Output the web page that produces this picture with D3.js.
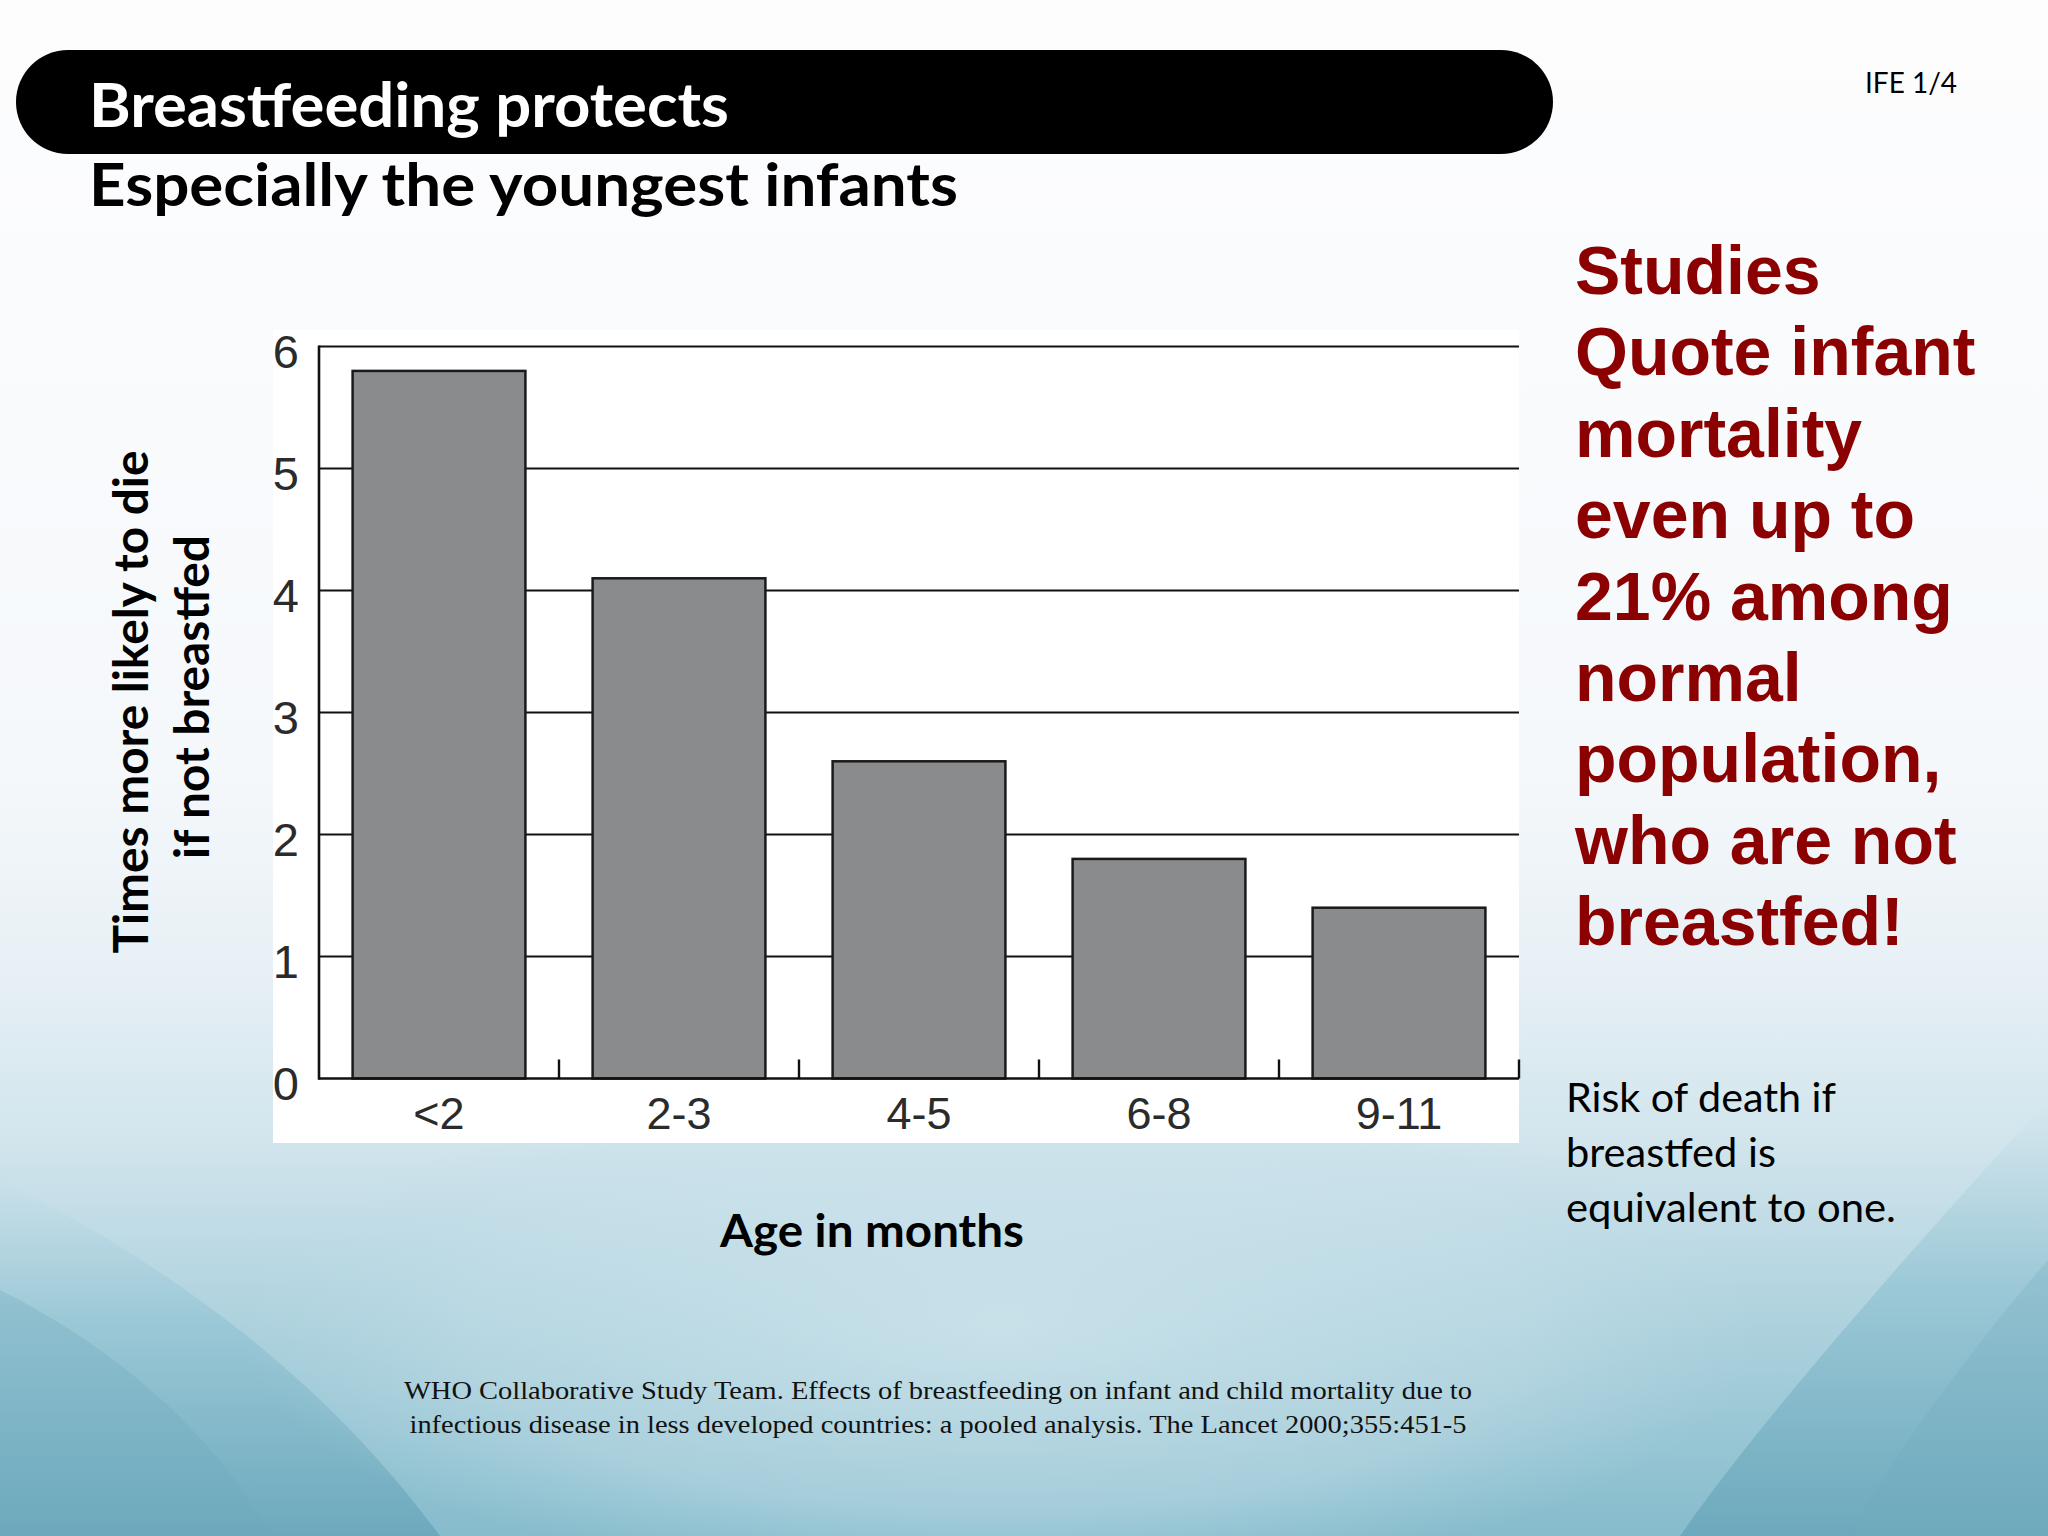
<!DOCTYPE html>
<html>
<head>
<meta charset="utf-8">
<script src="https://cdn.jsdelivr.net/npm/d3@7"></script>
<style>
  html, body { margin: 0; padding: 0; background: #fff; }
  svg { display: block; }
</style>
</head>
<body>
<script>
// chart values
const ageGroups = ["<2", "2-3", "4-5", "6-8", "9-11"];
const timesMoreLikely = [5.8, 4.1, 2.6, 1.8, 1.4];
const yTicks = [0, 1, 2, 3, 4, 5, 6];

// slide texts
const slideTitle = "Breastfeeding protects";
const slideSubtitle = "Especially the youngest infants";
const slideTag = "IFE 1/4";
const yTitleLines = ["Times more likely to die", "if not breastfed"];
const xTitle = "Age in months";
const calloutLines = ["Studies", "Quote infant", "mortality", "even up to", "21% among",
  "normal", "population,", "who are not", "breastfed!"];
const noteLines = ["Risk of death if", "breastfed is", "equivalent to one."];
const citationLines = [
  "WHO Collaborative Study Team. Effects of breastfeeding on infant and child mortality due to",
  "infectious disease in less developed countries: a pooled analysis. The Lancet 2000;355:451-5"
];

let width = 2048,
    height = 1536;

let svg = d3.select("body").append("svg")
    .attr("width", width).attr("height", height);

let defs = svg.append("defs");

// background of the slide
let bg = defs.append("linearGradient").attr("id", "bg")
    .attr("x1", 0).attr("y1", 0).attr("x2", 0).attr("y2", 1);
[[0, "#fdfdfe"], [0.5, "#f5f8fb"], [0.62, "#e9f1f6"], [0.74, "#d2e5ed"], [0.86, "#aed2de"], [1, "#86bccc"]]
    .forEach(s => bg.append("stop").attr("offset", s[0]).attr("stop-color", s[1]));

let dark = defs.append("linearGradient").attr("id", "dark")
    .attr("x1", 0).attr("y1", 0).attr("x2", 0).attr("y2", 1);
[[0, "#a5cfdc", 0], [0.4, "#8cc0d0", 0.55], [1, "#6aa7bb", 0.9]]
    .forEach(s => dark.append("stop").attr("offset", s[0]).attr("stop-color", s[1]).attr("stop-opacity", s[2]));

let dome = defs.append("radialGradient").attr("id", "dome")
    .attr("cx", 0.5).attr("cy", 0.5).attr("r", 0.5);
[[0, "#d3e7ee", 0.7], [0.7, "#c8e1ea", 0.4], [1, "#bcdbe5", 0]]
    .forEach(s => dome.append("stop").attr("offset", s[0]).attr("stop-color", s[1]).attr("stop-opacity", s[2]));

svg.append("rect").attr("width", width).attr("height", height).attr("fill", "url(#bg)");

// darker teal arcs at the sides
svg.append("path")
    .attr("d", "M0,1180 C200,1280 340,1400 440,1536 L0,1536 Z")
    .attr("fill", "url(#dark)");
svg.append("path")
    .attr("d", "M0,1290 C120,1350 220,1440 270,1536 L0,1536 Z")
    .attr("fill", "#6ea9bc").attr("opacity", 0.3);
svg.append("path")
    .attr("d", "M2048,1100 C1920,1240 1760,1420 1680,1536 L2048,1536 Z")
    .attr("fill", "url(#dark)");
svg.append("path")
    .attr("d", "M2048,1260 C1970,1350 1890,1460 1850,1536 L2048,1536 Z")
    .attr("fill", "#6ea9bc").attr("opacity", 0.25);
svg.append("ellipse")
    .attr("cx", 1000).attr("cy", 1330).attr("rx", 760).attr("ry", 260)
    .attr("fill", "url(#dome)");

// title bar
svg.append("rect")
    .attr("x", 16).attr("y", 50).attr("width", 1537).attr("height", 104)
    .attr("rx", 52).attr("ry", 52)
    .attr("fill", "#000");

svg.append("text")
    .attr("x", 89).attr("y", 127)
    .attr("font-family", "Lato, 'Open Sans', sans-serif")
    .attr("font-weight", 700).attr("font-size", 62)
    .attr("fill", "#fff")
    .attr("textLength", 640).attr("lengthAdjust", "spacingAndGlyphs")
    .text(slideTitle);

svg.append("text")
    .attr("x", 89).attr("y", 206)
    .attr("font-family", "Lato, 'Open Sans', sans-serif")
    .attr("font-weight", 700).attr("font-size", 60)
    .attr("fill", "#000")
    .attr("textLength", 869).attr("lengthAdjust", "spacingAndGlyphs")
    .text(slideSubtitle);

svg.append("text")
    .attr("x", 1865).attr("y", 93)
    .attr("font-family", "Lato, 'Open Sans', sans-serif")
    .attr("font-size", 28).attr("fill", "#000")
    .attr("textLength", 92).attr("lengthAdjust", "spacingAndGlyphs")
    .text(slideTag);

// chart panel
svg.append("rect")
    .attr("x", 273).attr("y", 330).attr("width", 1246).attr("height", 813)
    .attr("fill", "#fff");

let x = d3.scaleBand()
    .domain(ageGroups)
    .range([319, 1519])
    .paddingInner(0.28)
    .paddingOuter(0.14);

let y = d3.scaleLinear()
    .domain([0, 6])
    .range([1078.5, 346.5]);

let plot = svg.append("g").attr("class", "plot");

// gridlines
plot.selectAll(".grid")
    .data(yTicks.filter(d => d > 0))
    .enter()
    .append("line")
    .attr("x1", 319).attr("x2", 1519)
    .attr("y1", d => y(d)).attr("y2", d => y(d))
    .attr("stroke", "#111").attr("stroke-width", 2.2);

// bars
plot.selectAll(".bar")
    .data(timesMoreLikely)
    .enter()
    .append("rect")
    .attr("x", (d, i) => x(ageGroups[i]))
    .attr("y", d => y(d))
    .attr("width", x.bandwidth())
    .attr("height", d => y(0) - y(d))
    .attr("fill", "#8a8b8d")
    .attr("stroke", "#1a1a1a")
    .attr("stroke-width", 2.5);

// baseline and left axis line
plot.append("line")
    .attr("x1", 319).attr("x2", 1519)
    .attr("y1", y(0)).attr("y2", y(0))
    .attr("stroke", "#111").attr("stroke-width", 2.6);
plot.append("line")
    .attr("x1", 319).attr("x2", 319)
    .attr("y1", y(6) - 1).attr("y2", y(0) + 1.3)
    .attr("stroke", "#111").attr("stroke-width", 2.6);

// upward ticks between the age groups
plot.selectAll(".xtick")
    .data(ageGroups)
    .enter()
    .append("line")
    .attr("x1", d => x(d) + x.bandwidth() + (x.step() - x.bandwidth()) / 2)
    .attr("x2", d => x(d) + x.bandwidth() + (x.step() - x.bandwidth()) / 2)
    .attr("y1", y(0)).attr("y2", y(0) - 19)
    .attr("stroke", "#111").attr("stroke-width", 2.4);

// axis labels
let yAxis = plot.append("g")
    .attr("transform", "translate(319,0)")
    .call(d3.axisLeft(y).tickValues(yTicks).tickSize(0).tickPadding(20).tickFormat(d3.format("d")));
yAxis.select(".domain").remove();
yAxis.selectAll("text")
    .attr("font-family", "'Liberation Sans', Arial, sans-serif")
    .attr("font-size", 47).attr("fill", "#2b2b2b")
    .attr("dy", "0.45em");

let xAxis = plot.append("g")
    .attr("transform", "translate(0," + y(0) + ")")
    .call(d3.axisBottom(x).tickSize(0).tickPadding(19));
xAxis.select(".domain").remove();
xAxis.selectAll("text")
    .attr("font-family", "'Liberation Sans', Arial, sans-serif")
    .attr("font-size", 45).attr("fill", "#2b2b2b");

// axis titles
let yTitle = svg.append("g")
    .attr("font-family", "Lato, 'Open Sans', sans-serif")
    .attr("font-weight", 700).attr("font-size", 47)
    .attr("fill", "#000")
    .attr("text-anchor", "middle");
yTitle.append("text")
    .attr("transform", "translate(148,702) rotate(-90)")
    .attr("textLength", 503).attr("lengthAdjust", "spacingAndGlyphs")
    .text(yTitleLines[0]);
yTitle.append("text")
    .attr("transform", "translate(209,697) rotate(-90)")
    .attr("textLength", 324).attr("lengthAdjust", "spacingAndGlyphs")
    .text(yTitleLines[1]);

svg.append("text")
    .attr("x", 872).attr("y", 1247)
    .attr("text-anchor", "middle")
    .attr("font-family", "Lato, 'Open Sans', sans-serif")
    .attr("font-weight", 700).attr("font-size", 46)
    .attr("fill", "#000")
    .attr("textLength", 304).attr("lengthAdjust", "spacingAndGlyphs")
    .text(xTitle);

// red call-out on the right
svg.append("g")
    .selectAll("text")
    .data(calloutLines)
    .enter()
    .append("text")
    .attr("x", 1575)
    .attr("y", (d, i) => 294 + i * 81.4)
    .attr("font-family", "'Liberation Sans', Arial, sans-serif")
    .attr("font-weight", 700).attr("font-size", 68)
    .attr("fill", "#8b0000")
    .text(d => d);

// note under the call-out
let noteWidths = [270, 210, 330];
svg.append("g")
    .selectAll("text")
    .data(noteLines)
    .enter()
    .append("text")
    .attr("x", 1566)
    .attr("y", (d, i) => 1112 + i * 55)
    .attr("font-family", "Lato, 'Open Sans', sans-serif")
    .attr("font-size", 41)
    .attr("fill", "#000")
    .attr("textLength", (d, i) => noteWidths[i]).attr("lengthAdjust", "spacingAndGlyphs")
    .text(d => d);

// citation
let citeWidths = [1068, 1057];
svg.append("g")
    .selectAll("text")
    .data(citationLines)
    .enter()
    .append("text")
    .attr("x", 938)
    .attr("y", (d, i) => 1399 + i * 34)
    .attr("text-anchor", "middle")
    .attr("font-family", "'Liberation Serif', 'Times New Roman', serif")
    .attr("font-size", 25)
    .attr("fill", "#111")
    .attr("textLength", (d, i) => citeWidths[i]).attr("lengthAdjust", "spacingAndGlyphs")
    .text(d => d);
</script>
</body>
</html>
